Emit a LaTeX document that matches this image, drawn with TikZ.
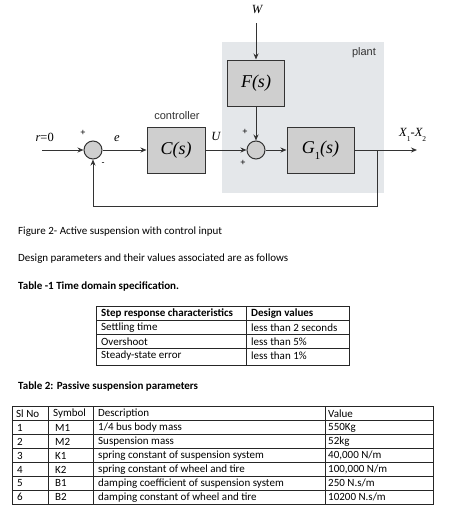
\documentclass[tikz,border=0pt]{standalone}
\usepackage{fontspec}
\setmainfont{Carlito}
\newfontfamily\arialf{Liberation Sans}
\newfontfamily\timesf{Liberation Serif}
\usetikzlibrary{arrows.meta}
\definecolor{plantbg}{HTML}{E4E7EA}
\definecolor{blkfill}{HTML}{CFCFCF}
\definecolor{lnc}{HTML}{333333}
\newcommand{\lowsub}[1]{\raisebox{-0.35em}{\upshape\fontsize{0.6em}{0.6em}\selectfont #1}}
\tikzset{
  blk/.style={draw=lnc, line width=1pt, fill=blkfill, inner sep=0pt, font=\timesf\itshape\fontsize{18}{18}\selectfont},
  sumc/.style={draw=lnc, line width=1pt, fill=blkfill, circle, minimum size=18pt, inner sep=0pt},
  sig/.style={draw=lnc, line width=1pt, -{Stealth[length=6pt,width=5pt]}},
  wire/.style={draw=lnc, line width=1pt},
  lbl/.style={inner sep=0pt, font=\timesf\itshape\fontsize{12.5}{12.5}\selectfont},
  sgn/.style={inner sep=0pt, font=\arialf\fontsize{9}{9}\selectfont},
  sanslbl/.style={inner sep=0pt, font=\arialf\fontsize{11}{11}\selectfont, text=black!80},
  txt/.style={inner sep=0pt, anchor=west, font=\fontsize{11}{11}\selectfont},
  btxt/.style={txt, font=\bfseries\fontsize{11}{11}\selectfont},
  grid/.style={draw=black!85, line width=0.8pt}
}
\begin{document}
\begin{tikzpicture}[x=1pt,y=-1pt]
\useasboundingbox (0,0) rectangle (474,515);
\fill[white] (0,0) rectangle (474,515);
% plant background
\fill[plantbg] (222,42) rectangle (384,193);
\node[sanslbl] (plantlbl) at (364,53) {plant};
\node[sanslbl] (ctrllbl) at (177,116) {controller};
% blocks
\node[blk, minimum width=57pt, minimum height=46pt] (F) at (256,83) {F(s)};
\node[blk, minimum width=58pt, minimum height=46pt] (C) at (176,150) {C(s)};
\node[blk, minimum width=67pt, minimum height=46pt] (G) at (320.5,150) {G\lowsub{1}(s)};
\node[sumc] (S1) at (93,150) {};
\node[sumc] (S2) at (256,150) {};
% coordinates
\coordinate (rin) at (42,150);
\coordinate (wtop) at (256,23);
\coordinate (br) at (377,150);
\coordinate (out) at (417,150);
\coordinate (fb1) at (377,206);
\coordinate (fb2) at (93,206);
% connectors
\draw[sig] (rin) -- (S1.west);
\draw[sig] (S1.east) -- (C.west);
\draw[sig] (C.east) -- (S2.west);
\draw[sig] (S2.east) -- (G.west);
\draw[sig] (G.east) -- (out);
\draw[sig] (wtop) -- (F.north);
\draw[sig] (F.south) -- (S2.north);
\draw[wire] (br) -- (fb1) -- (fb2);
\draw[sig] (fb2) -- (S1.south);
% labels
\node[lbl] (Wl) at (257,9) {W};
\node[lbl, anchor=east] (rl) at (54,137) {r{\upshape =0}};
\node[lbl] (el) at (117,139) {e};
\node[lbl] (Ul) at (216,136) {U};
\node[lbl, anchor=west] (Xl) at (399,135) {X\lowsub{1}{\upshape -}X\lowsub{2}};
\node[sgn] (p1) at (83,133) {+};
\node[sgn] (m1) at (103,164) {-};
\node[sgn] (p2) at (245,132) {+};
\node[sgn] (p3) at (243,163) {+};
% text
\node[txt] (cap) at (18,232) {Figure 2- Active suspension with control input};
\node[txt] (des) at (18,259) {Design parameters and their values associated are as follows};
\node[btxt] (t1t) at (18,286) {Table -1 Time domain specification.};
% table 1
\draw[grid] (96,306.7) rectangle (349,365.7);
\draw[grid] (246,306.7) -- (246,365.7);
\draw[grid] (96,320) -- (349,320);
\draw[grid] (96,334.3) -- (349,334.3);
\draw[grid] (96,348.3) -- (349,348.3);
\node[btxt] (a11) at (101,313.5) {Step response characteristics};
\node[btxt] (a12) at (251,313.5) {Design values};
\node[txt] (a21) at (101,328) {Settling time};
\node[txt] (a22) at (251,328) {less than 2 seconds};
\node[txt] (a31) at (101,341.7) {Overshoot};
\node[txt] (a32) at (251,341.7) {less than 5\%};
\node[txt] (a41) at (101,355.7) {Steady-state error};
\node[txt] (a42) at (251,355.7) {less than 1\%};
% table 2
\node[btxt] (t2t) at (18,387) {Table 2: Passive suspension parameters};
\draw[grid] (12,406.7) rectangle (433,504.3);
\foreach \xx in {48,93,325} \draw[grid] (\xx,406.7) -- (\xx,504.3);
\foreach \yy in {420.7,434.3,448.3,462.3,476,490} \draw[grid] (12,\yy) -- (433,\yy);
\node[txt] (b01) at (16,414) {Sl No};
\node[txt] (b02) at (53,414) {Symbol};
\node[txt] (b03) at (98,414) {Description};
\node[txt] (b04) at (328,414) {Value};
\node[txt] (b11) at (17,427.7) {1};
\node[txt] (b12) at (55,427.7) {M1};
\node[txt] (b13) at (98,427.7) {1/4 bus body mass};
\node[txt] (b14) at (328,427.7) {550Kg};
\node[txt] (b21) at (17,441.5) {2};
\node[txt] (b22) at (55,441.5) {M2};
\node[txt] (b23) at (98,441.5) {Suspension mass};
\node[txt] (b24) at (328,441.5) {52kg};
\node[txt] (b31) at (17,455.5) {3};
\node[txt] (b32) at (55,455.5) {K1};
\node[txt] (b33) at (98,455.5) {spring constant of suspension system};
\node[txt] (b34) at (328,455.5) {40,000 N/m};
\node[txt] (b41) at (17,469.5) {4};
\node[txt] (b42) at (55,469.5) {K2};
\node[txt] (b43) at (98,469.5) {spring constant of wheel and tire};
\node[txt] (b44) at (328,469.5) {100,000 N/m};
\node[txt] (b51) at (17,483.3) {5};
\node[txt] (b52) at (55,483.3) {B1};
\node[txt] (b53) at (98,483.3) {damping coefficient of suspension system};
\node[txt] (b54) at (328,483.3) {250 N.s/m};
\node[txt] (b61) at (17,497.3) {6};
\node[txt] (b62) at (55,497.3) {B2};
\node[txt] (b63) at (98,497.3) {damping constant of wheel and tire};
\node[txt] (b64) at (328,497.3) {10200 N.s/m};
\end{tikzpicture}
\end{document}
